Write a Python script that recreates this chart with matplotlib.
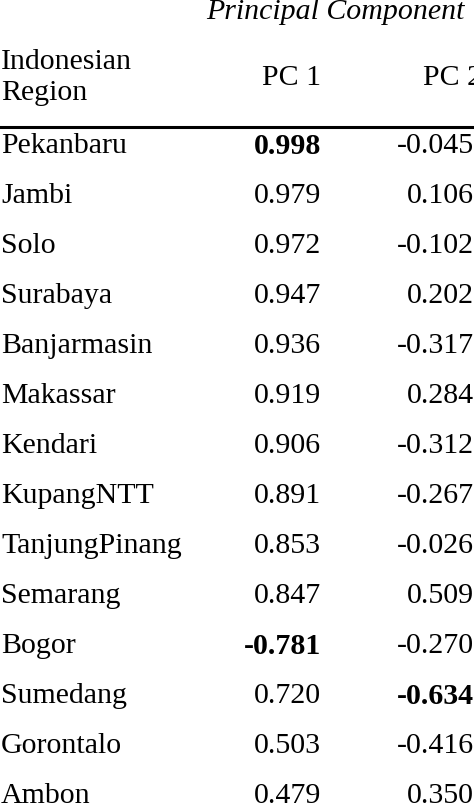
import matplotlib
matplotlib.use("Agg")
import matplotlib.pyplot as plt

regions = ["Pekanbaru", "Jambi", "Solo", "Surabaya", "Banjarmasin", "Makassar", "Kendari",
           "KupangNTT", "TanjungPinang", "Semarang", "Bogor", "Sumedang", "Gorontalo", "Ambon"]
pc1 = ["0.998", "0.979", "0.972", "0.947", "0.936", "0.919", "0.906",
       "0.891", "0.853", "0.847", "-0.781", "0.720", "0.503", "0.479"]
# PC 2 column is cut off at the right edge of the source image
pc2 = ["-0.045", "0.106", "-0.102", "0.202", "-0.317", "0.284", "-0.312",
       "-0.267", "-0.026", "0.509", "-0.270", "-0.634", "-0.416", "0.350"]
bold_pc1 = {"0.998", "-0.781"}
bold_pc2 = {"-0.634"}

W, H = 474, 810
fig = plt.figure(figsize=(W / 100, H / 100), dpi=100)
ax = fig.add_axes([0, 0, 1, 1])
ax.set_xlim(0, W)
ax.set_ylim(H, 0)
ax.axis("off")
plt.rcParams["font.family"] = ["Liberation Serif"]
fs = 21.5

ax.text(335, 12, "Principal Component", ha="center", va="center", fontsize=fs, style="italic")
ax.text(1, 62, "Indonesian", ha="left", va="center", fontsize=fs)
ax.text(1, 93, "Region", ha="left", va="center", fontsize=fs)
ax.text(321, 78, "PC 1", ha="right", va="center", fontsize=fs)
ax.text(423, 78, "PC 2", ha="left", va="center", fontsize=fs)
ax.plot([0, W], [127, 127], color="black", lw=2.2)

for i, (name, a, b) in enumerate(zip(regions, pc1, pc2)):
    y = 146 + i * 50
    ax.text(1, y, name, ha="left", va="center", fontsize=fs)
    ax.text(321, y, a, ha="right", va="center", fontsize=fs,
            weight="bold" if a in bold_pc1 else "normal")
    ax.text(474, y, b, ha="right", va="center", fontsize=fs,
            weight="bold" if b in bold_pc2 else "normal")

fig.savefig("out.png", dpi=100)
